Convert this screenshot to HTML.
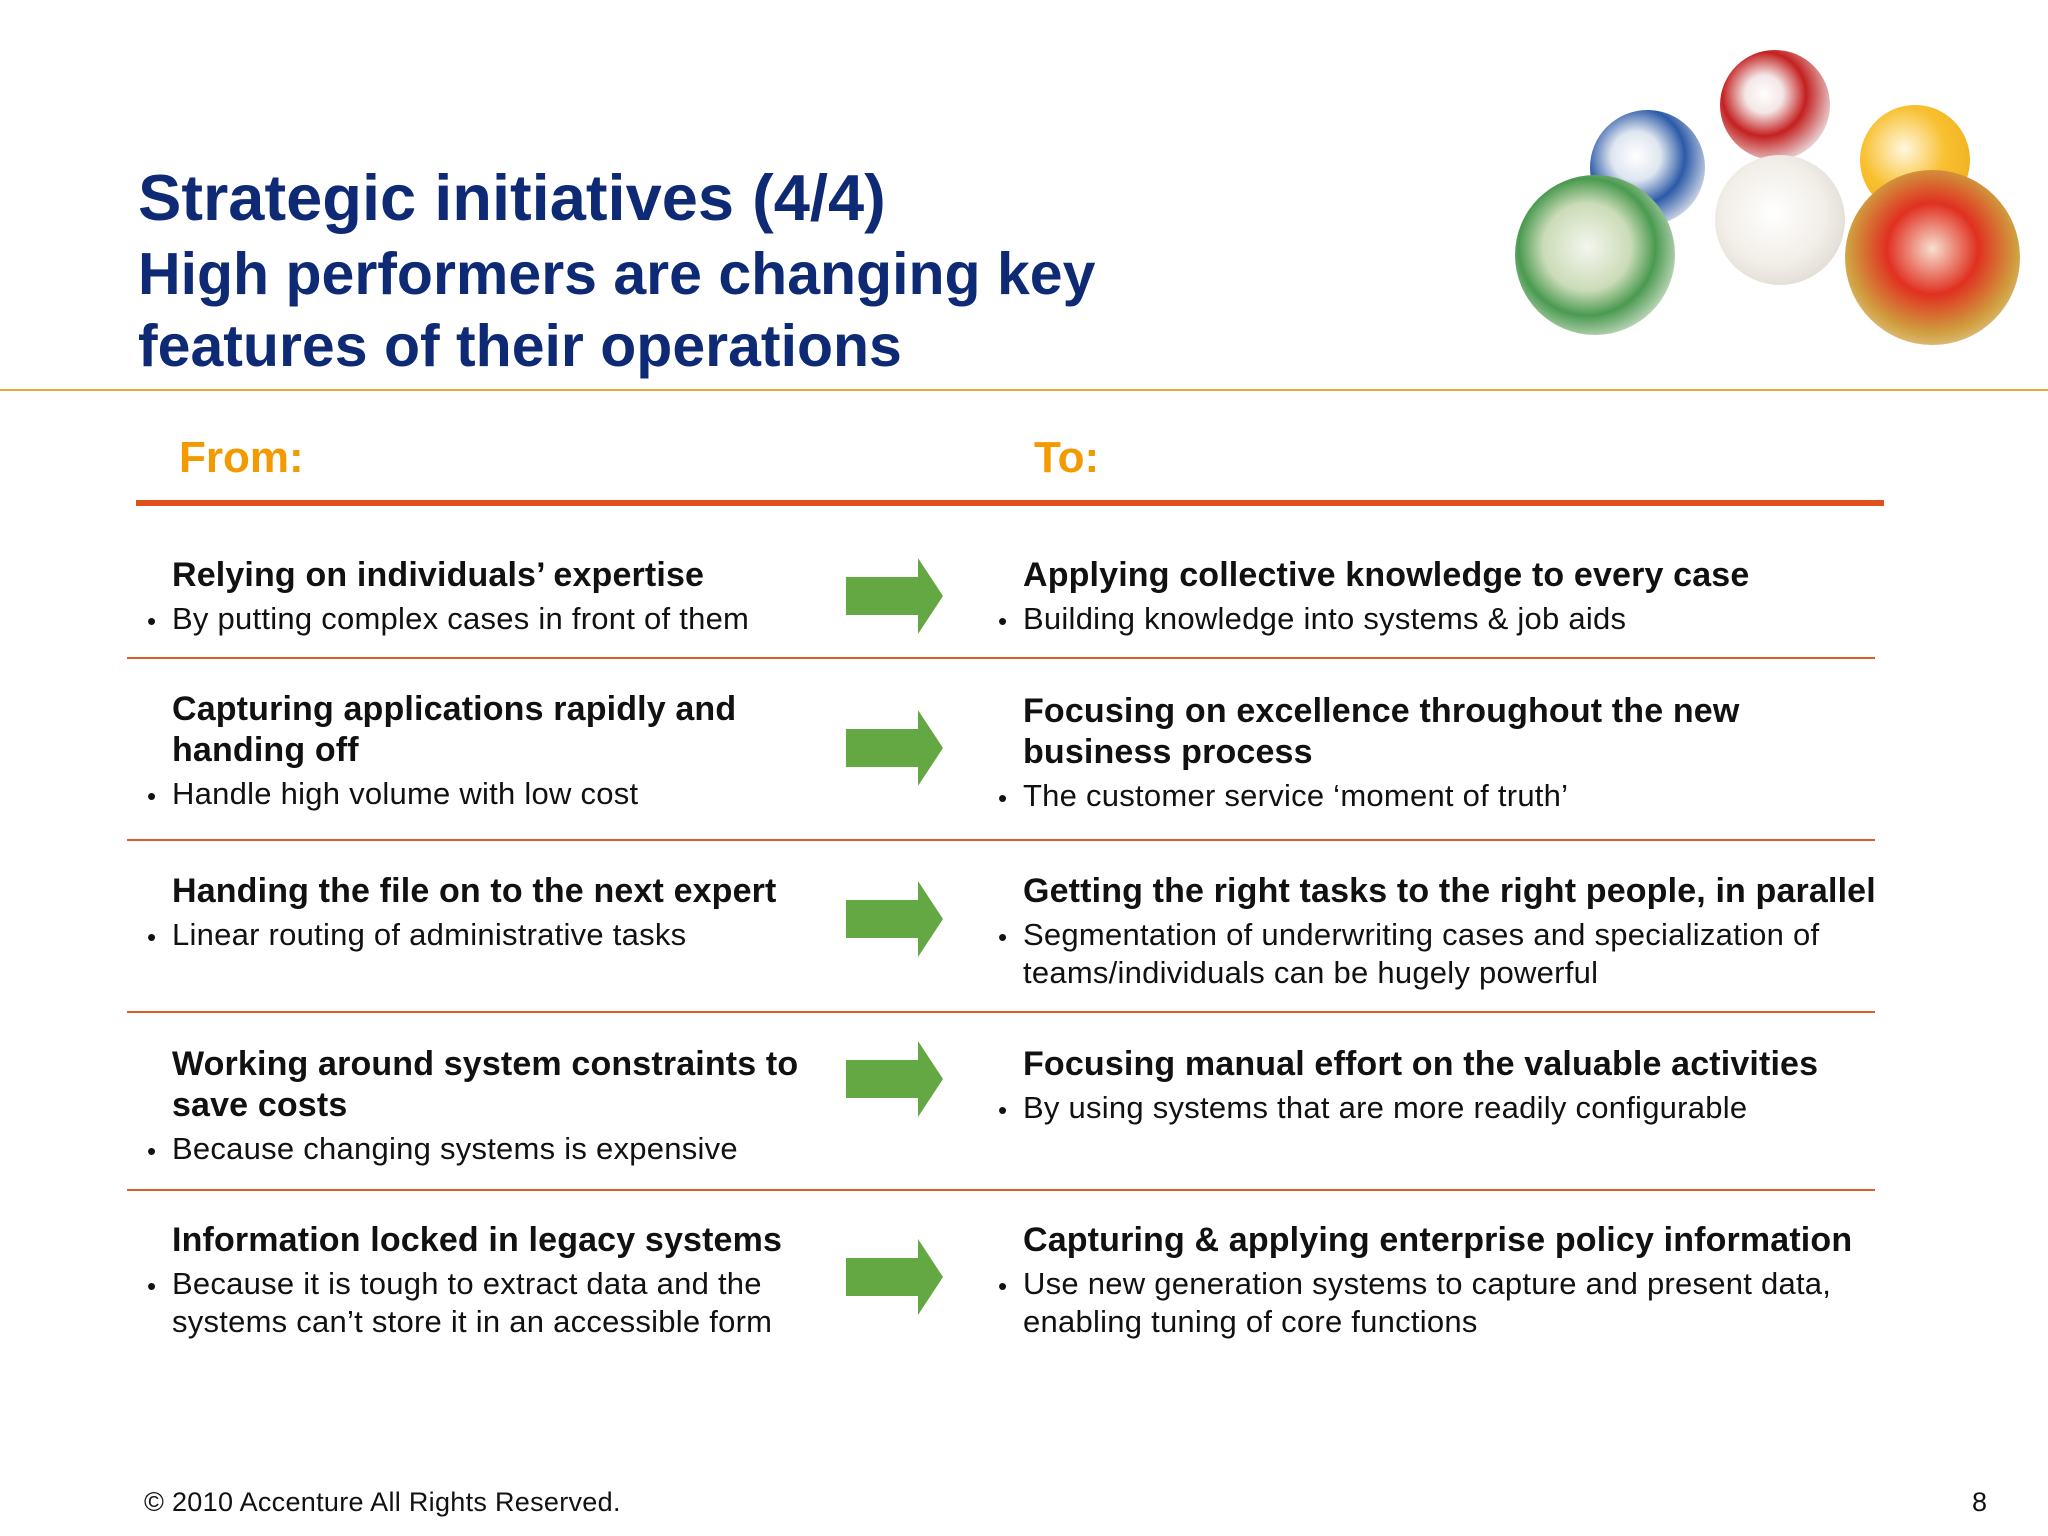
<!DOCTYPE html>
<html><head><meta charset="utf-8"><style>
body{margin:0;width:2048px;height:1536px;background:#fff;position:relative;overflow:hidden;font-family:"Liberation Sans",sans-serif;}
.a{position:absolute;}
.t{color:#0f2a75;font-weight:bold;}
.h{font-weight:bold;font-size:34px;line-height:41px;color:#111;letter-spacing:0.15px;}
.b{font-size:31px;line-height:38px;color:#111;letter-spacing:0.25px;}
.bl{position:absolute;font-size:26px;color:#111;}
.sep{position:absolute;left:127px;width:1748px;height:2px;background:#e05a2a;}
.m{position:absolute;border-radius:50%;}
</style></head><body>
<div class="a t" style="left:138px;top:160px;font-size:65px;">Strategic initiatives (4/4)</div>
<div class="a t" style="left:138px;top:238px;font-size:59px;line-height:72px;">High performers are changing key<br>features of their operations</div>
<div class="a" style="left:1500px;top:40px;width:548px;height:350px;">
<div class="m" style="left:220px;top:10px;width:110px;height:110px;background:radial-gradient(circle at 40% 40%,#fff 0,#f4e6e6 20%,#c42020 45%,#e8d0d0 75%,#f5f0f0 100%);"></div>
<div class="m" style="left:90px;top:70px;width:115px;height:115px;background:radial-gradient(circle at 40% 40%,#fff 0,#dfe6f0 25%,#2c5aa8 50%,#e5e8ee 80%,#f3f3f5 100%);"></div>
<div class="m" style="left:360px;top:65px;width:110px;height:110px;background:radial-gradient(circle at 40% 40%,#fff8e0 0,#f8c030 45%,#f0b020 80%,#f6e8c0 100%);"></div>
<div class="m" style="left:215px;top:115px;width:130px;height:130px;background:radial-gradient(circle at 45% 45%,#fff 0,#f2eee8 50%,#d8d4cc 90%,#eee 100%);"></div>
<div class="m" style="left:15px;top:135px;width:160px;height:160px;background:radial-gradient(circle at 45% 45%,#f4f6ee 0,#cbdcb8 35%,#4a9a50 55%,#e0e8d8 80%,#c8d0c0 100%);"></div>
<div class="m" style="left:345px;top:130px;width:175px;height:175px;background:radial-gradient(circle at 50% 45%,#f8e0d0 0,#e03020 35%,#d0a040 65%,#eee0c8 90%,#ddd 100%);"></div>
</div>
<div class="a" style="left:0;top:389px;width:2048px;height:2px;background:#e8a53a;"></div>
<div class="a" style="left:179px;top:433px;font-size:44px;font-weight:bold;color:#f29a00;">From:</div>
<div class="a" style="left:1034px;top:433px;font-size:44px;font-weight:bold;color:#f29a00;">To:</div>
<div class="a" style="left:136px;top:500px;width:1748px;height:6px;background:#e0501c;"></div>
<div class="sep" style="top:657px"></div>
<div class="sep" style="top:839px"></div>
<div class="sep" style="top:1011px"></div>
<div class="sep" style="top:1189px"></div>

<div id="rows"></div>
<div class="a" style="left:144px;top:1487px;font-size:27px;color:#111;letter-spacing:0.3px;">© 2010 Accenture All Rights Reserved.</div>
<div class="a" style="left:1972px;top:1487px;font-size:27px;color:#111;">8</div>
<script>
const rows=[
 {ay:596,l:{y:555,h:["Relying on individuals’ expertise"],b:["By putting complex cases in front of them"]},r:{y:555,h:["Applying collective knowledge to every case"],b:["Building knowledge into systems & job aids"]}},
 {ay:748,l:{y:689,h:["Capturing applications rapidly and","handing off"],b:["Handle high volume with low cost"]},r:{y:691,h:["Focusing on excellence throughout the new","business process"],b:["The customer service ‘moment of truth’"]}},
 {ay:919,l:{y:871,h:["Handing the file on to the next expert"],b:["Linear routing of administrative tasks"]},r:{y:871,h:["Getting the right tasks to the right people, in parallel"],b:["Segmentation of underwriting cases and specialization of","teams/individuals can be hugely powerful"]}},
 {ay:1079,l:{y:1044,h:["Working around system constraints to","save costs"],b:["Because changing systems is expensive"]},r:{y:1044,h:["Focusing manual effort on the valuable activities"],b:["By using systems that are more readily configurable"]}},
 {ay:1277,l:{y:1220,h:["Information locked in legacy systems"],b:["Because it is tough to extract data and the","systems can’t store it in an accessible form"]},r:{y:1220,h:["Capturing & applying enterprise policy information"],b:["Use new generation systems to capture and present data,","enabling tuning of core functions"]}}
];
const c=document.getElementById('rows');
function block(d,x,nm){
 const w=document.createElement('div');
 w.className='a';w.style.left=x+'px';w.style.top=d.y+'px';
 
 
 const h=document.createElement('div');h.className='h';h.innerHTML=d.h.join('<br>');
 
 
 const b=document.createElement('div');b.className='b';b.style.marginTop='4px';b.style.position='relative';b.innerHTML=d.b.join('<br>');
 
 
 const dot=document.createElement('span');dot.className='bl';dot.textContent='•';dot.style.left='-25px';dot.style.top='2px';
 b.appendChild(dot);
 w.appendChild(h);w.appendChild(b);c.appendChild(w);
}
rows.forEach((r,i)=>{
 block(r.l,172,'from-item');
 block(r.r,1023,'to-item');
 const s=document.createElementNS('http://www.w3.org/2000/svg','svg');
 s.setAttribute('width','98');s.setAttribute('height','80');
 s.style.position='absolute';s.style.left='846px';s.style.top=(r.ay-40)+'px';
 
 
 s.innerHTML='<polygon points="0,21 72,21 72,2 97,40 72,78 72,59 0,59" fill="#64a844"/>';
 c.appendChild(s);
});
</script>
</body></html>
